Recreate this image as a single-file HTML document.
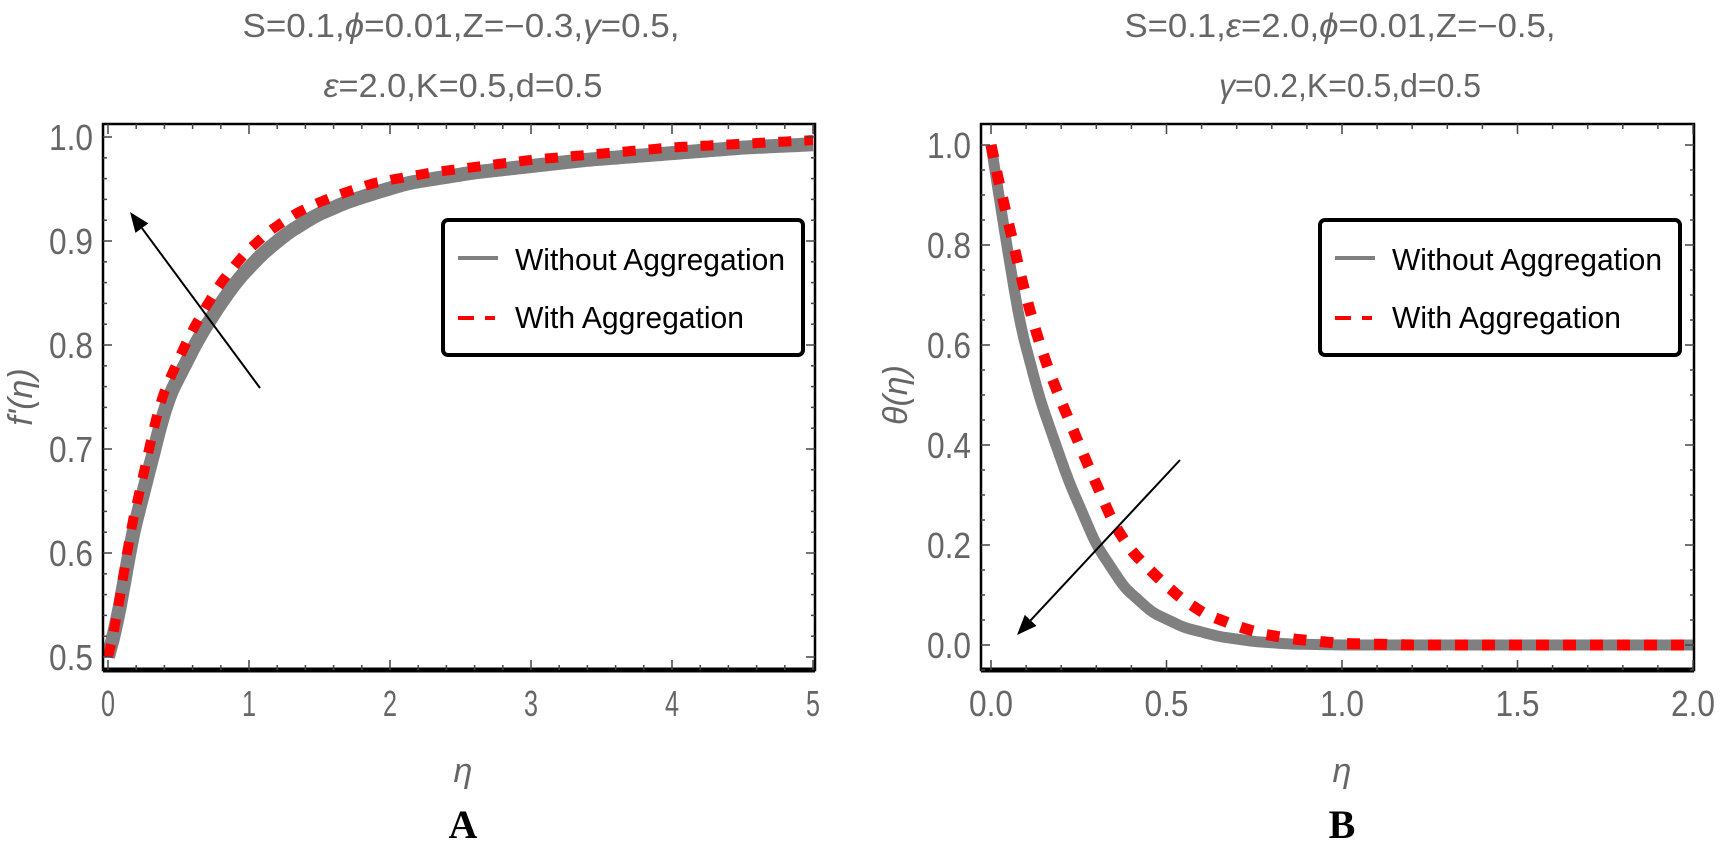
<!DOCTYPE html>
<html><head><meta charset="utf-8"><style>
html,body{margin:0;padding:0;background:#fff;}
svg{display:block;}
text{font-family:"Liberation Sans",sans-serif;}
text.serif{font-family:"Liberation Serif",serif;}
</style></head><body>
<svg id="s" width="1720" height="841" viewBox="0 0 1720 841" xmlns="http://www.w3.org/2000/svg">
<rect width="1720" height="841" fill="#fff"/>
<g fill="#666" font-size="33" text-anchor="middle">
<text x="461" y="37" textLength="437" lengthAdjust="spacingAndGlyphs">S=0.1,<tspan font-style="italic">ϕ</tspan>=0.01,Z=−0.3,<tspan font-style="italic">γ</tspan>=0.5,</text>
<text x="463" y="97" textLength="279" lengthAdjust="spacingAndGlyphs"><tspan font-style="italic">ε</tspan>=2.0,K=0.5,d=0.5</text>
<text x="1340" y="37" textLength="431" lengthAdjust="spacingAndGlyphs">S=0.1,<tspan font-style="italic">ε</tspan>=2.0,<tspan font-style="italic">ϕ</tspan>=0.01,Z=−0.5,</text>
<text x="1350" y="97" textLength="262" lengthAdjust="spacingAndGlyphs"><tspan font-style="italic">γ</tspan>=0.2,K=0.5,d=0.5</text>
</g>
<g id="plots"></g>
<g fill="#666" font-size="34" font-style="italic" text-anchor="middle">
<text x="463" y="782">η</text>
<text x="1342" y="782">η</text>
<text transform="translate(32,397) rotate(-90)">f'(η)</text>
<text transform="translate(907,395) rotate(-90)">θ(η)</text>
</g>
<g font-weight="bold" font-size="40" text-anchor="middle" fill="#000">
<text class="serif" x="463" y="838">A</text>
<text class="serif" x="1342" y="838">B</text>
</g>
</svg>
<script>
var NS="http://www.w3.org/2000/svg";
var G=document.getElementById('plots');
function el(t,a,p){var e=document.createElementNS(NS,t);for(var k in a)e.setAttribute(k,a[k]);(p||G).appendChild(e);return e;}
function txt(x,y,s,a,p){var e=el('text',Object.assign({x:x,y:y},a),p);e.textContent=s;return e;}
function interp(pts,x){if(x<=pts[0][0])return pts[0][1];for(var i=1;i<pts.length;i++){if(x<=pts[i][0]){var a=pts[i-1],b=pts[i];
var t=(x-a[0])/(b[0]-a[0]);return a[1]+(b[1]-a[1])*t;}}return pts[pts.length-1][1];}
function smoothPath(pts,X,Y,x0,x1,n){var d='';var raw=[];for(var i=0;i<=n;i++){var x=x0+(x1-x0)*i/n;raw.push([x,interp(pts,x)]);}
var sm=raw.map(function(p,i){var s=0,c=0;for(var j=-3;j<=3;j++){var q=raw[i+j];if(q){s+=q[1];c++;}}return [p[0],(i<3||i>n-3)?p[1]:s/c];});
sm.forEach(function(p,i){d+=(i?'L':'M')+X(p[0]).toFixed(1)+','+Y(p[1]).toFixed(1);});return d;}

(function(){
var L=103,R=815,T=124,B=670;
var X=function(v){return 108+v*141;},Y=function(v){return 137+(1-v)*1040;};
var red=[[0,0.5],[0.07,0.54],[0.14,0.61],[0.2,0.645],[0.37,0.747],[0.46,0.774],[0.57,0.807],[0.69,0.836],[0.81,0.862],[0.97,0.888],[1.13,0.908],[1.31,0.925],[1.5,0.9375],[1.69,0.947],[1.89,0.956],[2.3,0.966],[3,0.978],[4,0.99],[5,0.997]];
var gray=red.map(function(p){return [p[0]*1.13,p[1]];});
var clip=el('clipPath',{id:'ca'});el('rect',{x:L,y:T,width:R-L,height:B-T},clip);
var g=el('g',{'clip-path':'url(#ca)'});
el('path',{d:smoothPath(gray,X,Y,0,5,300),fill:'none',stroke:'#808080','stroke-width':14,'stroke-linejoin':'round'},g);
el('path',{d:smoothPath(red,X,Y,0,5,300),fill:'none',stroke:'#f00','stroke-width':10,'stroke-dasharray':'13,13'},g);
frame(L,R,T,B,X,Y,[0,1,2,3,4,5],function(v){return ''+v;},0.2,[0.5,0.6,0.7,0.8,0.9,1.0],0.02);
arrow(260,388,130,212);
legend(443,220,360,135);
})();

(function(){
var L=981,R=1694,T=124,B=670;
var X=function(v){return 991+v*351;},Y=function(v){return 645-v*500;};
var red=[[0,1],[0.026,0.914],[0.05,0.844],[0.073,0.774],[0.097,0.704],[0.125,0.634],[0.154,0.57],[0.19,0.504],[0.27,0.37],[0.35,0.242],[0.4,0.188],[0.47,0.138],[0.54,0.094],[0.61,0.062],[0.7,0.038],[0.775,0.022],[0.86,0.012],[1.0,0.003],[1.2,0],[2,0]];
var gray=[[0,1],[0.045,0.8],[0.083,0.64],[0.14,0.49],[0.22,0.33],[0.3,0.2],[0.38,0.115],[0.46,0.065],[0.55,0.035],[0.65,0.017],[0.75,0.007],[0.85,0.002],[1,0],[2,0]];
var clip=el('clipPath',{id:'cb'});el('rect',{x:L,y:T,width:R-L,height:B-T},clip);
var g=el('g',{'clip-path':'url(#cb)'});
el('path',{d:smoothPath(gray,X,Y,0,2,400),fill:'none',stroke:'#808080','stroke-width':11,'stroke-linejoin':'round'},g);
el('path',{d:smoothPath(red,X,Y,0,2,400),fill:'none',stroke:'#f00','stroke-width':11,'stroke-dasharray':'13,14'},g);
frame(L,R,T,B,X,Y,[0,0.5,1,1.5,2],function(v){return v.toFixed(1);},0.1,[0,0.2,0.4,0.6,0.8,1.0],0.05);
arrow(1180,460,1017,635);
legend(1320,220,360,135);
})();

function frame(L,R,T,B,X,Y,xt,xf,xminor,yt,yminor){
 el('rect',{x:L,y:T,width:R-L,height:B-T,fill:'none',stroke:'#000','stroke-width':2.5});
 el('line',{x1:L,y1:B,x2:R,y2:B,stroke:'#000','stroke-width':5});
 var x0=xt[0],x1=xt[xt.length-1];
 for(var v=x0;v<=x1+1e-9;v+=xminor){var px=X(v);var maj=xt.some(function(t){return Math.abs(t-v)<1e-6;});var h=maj?10:5;
  el('line',{x1:px,y1:B,x2:px,y2:B-h,stroke:'#444','stroke-width':1.5});el('line',{x1:px,y1:T,x2:px,y2:T+h,stroke:'#444','stroke-width':1.5});}
 xt.forEach(function(v){var s=xf(v);txt(X(v),716,s,{fill:'#666','font-size':36,'text-anchor':'middle',textLength:s.length>1?44:14,lengthAdjust:'spacingAndGlyphs'});});
 var y0=yt[0]-yminor*2,y1=yt[yt.length-1]+yminor;
 for(var v=y0;v<=y1+1e-9;v+=yminor){var py=Y(v);if(py<T||py>B)continue;var maj=yt.some(function(t){return Math.abs(t-v)<1e-6;});var h=maj?9:4;
  el('line',{x1:L,y1:py,x2:L+h,y2:py,stroke:'#444','stroke-width':1.5});el('line',{x1:R,y1:py,x2:R-h,y2:py,stroke:'#444','stroke-width':1.5});}
 yt.forEach(function(v){txt(L-10,Y(v)+13,v.toFixed(1),{fill:'#666','font-size':36,'text-anchor':'end',textLength:44,lengthAdjust:'spacingAndGlyphs'});});
}
function arrow(x1,y1,x2,y2){
 var a=Math.atan2(y2-y1,x2-x1),hl=20,hw=8;
 var bx=x2-hl*Math.cos(a),by=y2-hl*Math.sin(a);
 el('line',{x1:x1,y1:y1,x2:bx,y2:by,stroke:'#000','stroke-width':2});
 var px=-Math.sin(a)*hw,py=Math.cos(a)*hw;
 el('polygon',{points:x2+','+y2+' '+(bx+px)+','+(by+py)+' '+(bx-px)+','+(by-py),fill:'#000'});
}
function legend(x,y,w,h){
 el('rect',{x:x,y:y,width:w,height:h,rx:5,fill:'#fff',stroke:'#000','stroke-width':4});
 el('line',{x1:x+15,y1:y+38,x2:x+55,y2:y+38,stroke:'#808080','stroke-width':4});
 el('line',{x1:x+15,y1:y+98,x2:x+31,y2:y+98,stroke:'#f00','stroke-width':4});
 el('line',{x1:x+42,y1:y+98,x2:x+52,y2:y+98,stroke:'#f00','stroke-width':4});
 txt(x+72,y+50,'Without Aggregation',{fill:'#000','font-size':31,textLength:270,lengthAdjust:'spacingAndGlyphs'});
 txt(x+72,y+108,'With Aggregation',{fill:'#000','font-size':31,textLength:229,lengthAdjust:'spacingAndGlyphs'});
}
</script>
</body></html>
